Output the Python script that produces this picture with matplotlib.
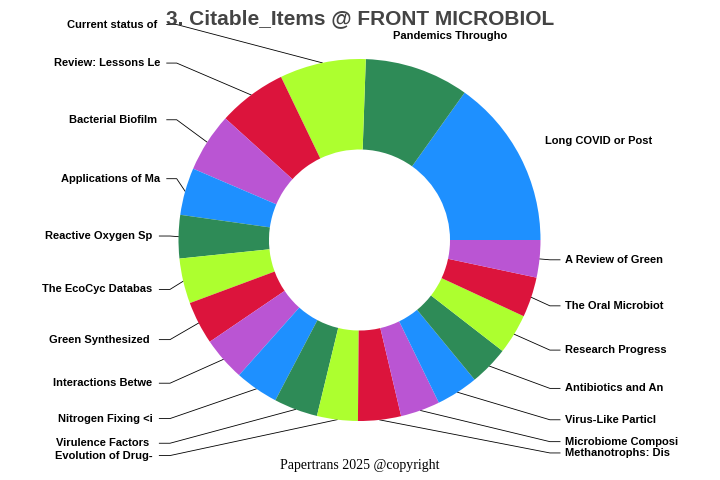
import numpy as np
import matplotlib
matplotlib.use('Agg')
from matplotlib import pyplot as plt

titles = ['Long COVID or Post', 'Pandemics Througho', 'Current status of ', 'Review: Lessons Le',
          'Bacterial Biofilm ', 'Applications of Ma', 'Reactive Oxygen Sp', 'The EcoCyc Databas',
          'Green Synthesized ', 'Interactions Betwe', 'Nitrogen Fixing <i', 'Virulence Factors ',
          'Evolution of Drug-', 'Methanotrophs: Dis', 'Microbiome Composi', 'Virus-Like Particl',
          'Antibiotics and An', 'Research Progress ', 'The Oral Microbiot', 'A Review of Green ']
shares = [54.5, 33.5, 27.7, 22.1, 19.0, 15.2, 13.9, 14.5, 13.8, 14.1,
          14.0, 14.1, 13.1, 13.8, 12.7, 13.5, 12.7, 12.9, 12.9, 12.0]
palette = ['dodgerblue', 'seagreen', 'greenyellow', 'crimson', 'mediumorchid']

plt.rcParams['font.family'] = ['Liberation Sans', 'DejaVu Sans']

fig = plt.figure(figsize=(7.2, 4.8), dpi=100)
ax = fig.add_axes([0, 0, 1, 1])

colors = [palette[i % len(palette)] for i in range(len(shares))]
wedges, _ = ax.pie(shares, colors=colors, startangle=0, counterclock=True, radius=1,
                   wedgeprops=dict(width=0.5, linewidth=0))

scale = 181.0
ax.set_xlim(-359.5 / scale, (720 - 359.5) / scale)
ax.set_ylim(-(480 - 240) / scale, 240 / scale)
ax.set_aspect('equal')
ax.set_axis_off()

for i, w in enumerate(wedges):
    ang = np.deg2rad((w.theta1 + w.theta2) / 2.0)
    cx, cy = np.cos(ang), np.sin(ang)
    if i < 2:
        # the two big slices get a plain label, no leader line
        if i == 0:
            ax.text(1.15 * cx, 1.15 * cy + 0.02, titles[i], ha='left', va='center',
                    fontsize=8, fontweight='bold')
        else:
            ax.text(1.15 * cx + 0.13, 1.15 * cy + 0.04, titles[i], ha='center', va='center',
                    fontsize=8, fontweight='bold')
        continue
    ly = 1.2 * cy
    if cx > 0 or cy > 0.1:
        ly += 0.016
    if cx > 0:
        elbow, end = 1.052, 1.108
        tx, ha = end + 0.03, 'left'
    else:
        if ly > 0.05:
            elbow, end = -1.010, -1.065
        else:
            elbow, end = -1.047, -1.106
        tx, ha = end - 0.037, 'right'
    ax.plot([cx, elbow, end], [cy, ly, ly], color='black', lw=0.6, zorder=0)
    ax.text(tx, ly, titles[i], ha=ha, va='center', fontsize=8, fontweight='bold')

fig.text(0.5, 1 - 19 / 480, '3. Citable_Items @ FRONT MICROBIOL', ha='center', va='center',
         fontsize=15, fontweight='bold', color='#444444')
fig.text(0.5, 1 - 466 / 480, 'Papertrans 2025 @copyright', ha='center', va='center',
         fontsize=10, family=['Liberation Serif', 'DejaVu Serif'])

plt.savefig('out.png', dpi=100)
